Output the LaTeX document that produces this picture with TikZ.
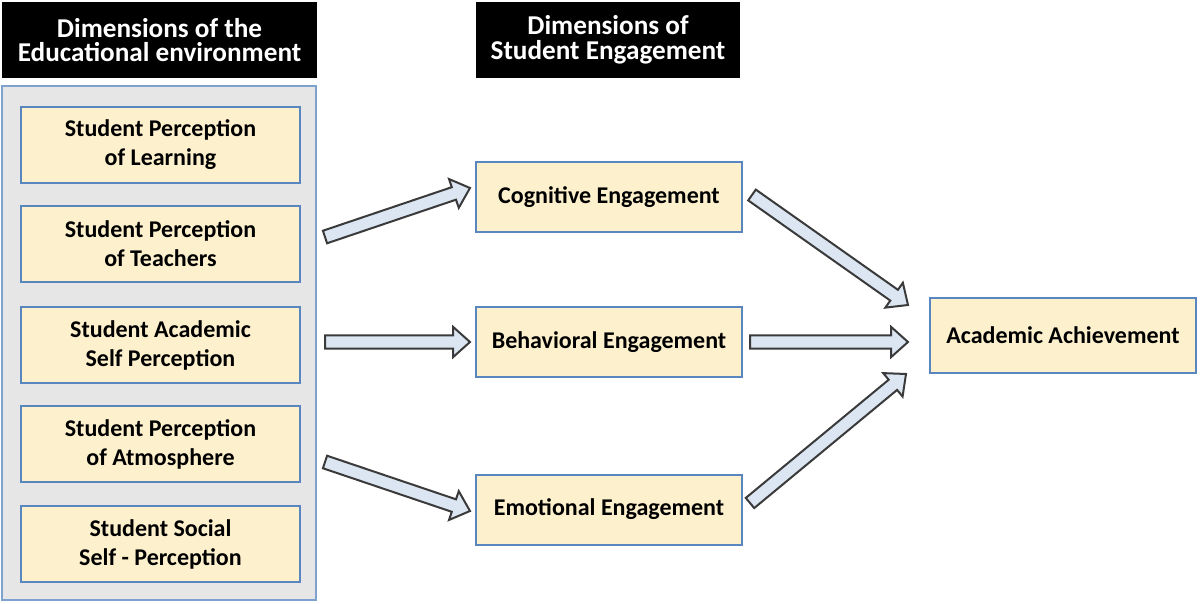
\documentclass[tikz,border=0pt]{standalone}
\usepackage{fontspec}
\setmainfont{Carlito}
\usetikzlibrary{calc}
\definecolor{boxfill}{HTML}{FDF0CC}
\definecolor{boxline}{HTML}{5A86BF}
\definecolor{contfill}{HTML}{E6E6E6}
\definecolor{contline}{HTML}{7EA2CD}
\definecolor{arrfill}{HTML}{DCE6F2}
\definecolor{arrline}{HTML}{3A3A3A}
\tikzset{
  ybox/.style={draw=boxline, fill=boxfill, line width=1pt, align=center,
    font=\fontsize{12}{14.5}\selectfont\bfseries, inner sep=0pt},
  leftbox/.style={ybox, minimum width=139.5pt, minimum height=38pt},
  midbox/.style={ybox, minimum width=133pt, minimum height=35pt},
  header/.style={fill=black, text=white, align=center, inner sep=0pt,
    font=\fontsize{13.6}{12.4}\selectfont\bfseries, minimum height=38pt},
  container/.style={draw=contline, fill=contfill, line width=1pt},
  barrow/.style={draw=arrline, fill=arrfill, line width=1pt, line join=miter}
}
\newcommand\blockarrow[2]{%
  \coordinate (tmpab) at ($(#2)!8.5pt!(#1)$);
  \draw[barrow] ($(#1)!3.3pt!90:(#2)$) -- ($(tmpab)!3.3pt!90:(#2)$)
    -- ($(tmpab)!7.6pt!90:(#2)$) -- (#2) -- ($(tmpab)!7.6pt!-90:(#2)$)
    -- ($(tmpab)!3.3pt!-90:(#2)$) -- ($(#1)!3.3pt!-90:(#2)$) -- cycle;}
\begin{document}
\begin{tikzpicture}[x=0.5pt, y=-0.5pt]
\useasboundingbox (0,0) rectangle (1200,604);
% headers
\node[header, minimum width=157.5pt] (h1) at (159.5,40) {Dimensions of the\\Educational environment};
\node[header, minimum width=132pt] (h2) at (608,40) {Dimensions of\\Student Engagement};
% container
\draw[container] (2,86) rectangle (316,600);
% left boxes
\node[leftbox] (l1) at (160.5,145) {Student Perception\\of Learning};
\node[leftbox] (l2) at (160.5,244) {Student Perception\\of Teachers};
\node[leftbox] (l3) at (160.5,345) {Student Academic\\Self Perception};
\node[leftbox] (l4) at (160.5,444) {Student Perception\\of Atmosphere};
\node[leftbox] (l5) at (160.5,544) {Student Social\\Self - Perception};
% middle boxes
\node[midbox] (cog) at (609,197.5) {Cognitive Engagement};
\node[midbox] (beh) at (609,342) {Behavioral Engagement};
\node[midbox] (emo) at (609,509.5) {Emotional Engagement};
% achievement
\node[ybox, minimum width=133pt, minimum height=37.5pt] (ach) at (1063,335.5) {Academic Achievement};
% arrow end points
\coordinate (a1s) at (325,237); \coordinate (a1e) at (470,188);
\coordinate (a2s) at (325,342); \coordinate (a2e) at (470,342);
\coordinate (a3s) at (325,462); \coordinate (a3e) at (470,511);
\coordinate (a4s) at (752,195); \coordinate (a4e) at (908,305);
\coordinate (a5s) at (750,342); \coordinate (a5e) at (908,342);
\coordinate (a6s) at (750,503); \coordinate (a6e) at (906,374);
\blockarrow{a1s}{a1e}
\blockarrow{a2s}{a2e}
\blockarrow{a3s}{a3e}
\blockarrow{a4s}{a4e}
\blockarrow{a5s}{a5e}
\blockarrow{a6s}{a6e}
\end{tikzpicture}
\end{document}
